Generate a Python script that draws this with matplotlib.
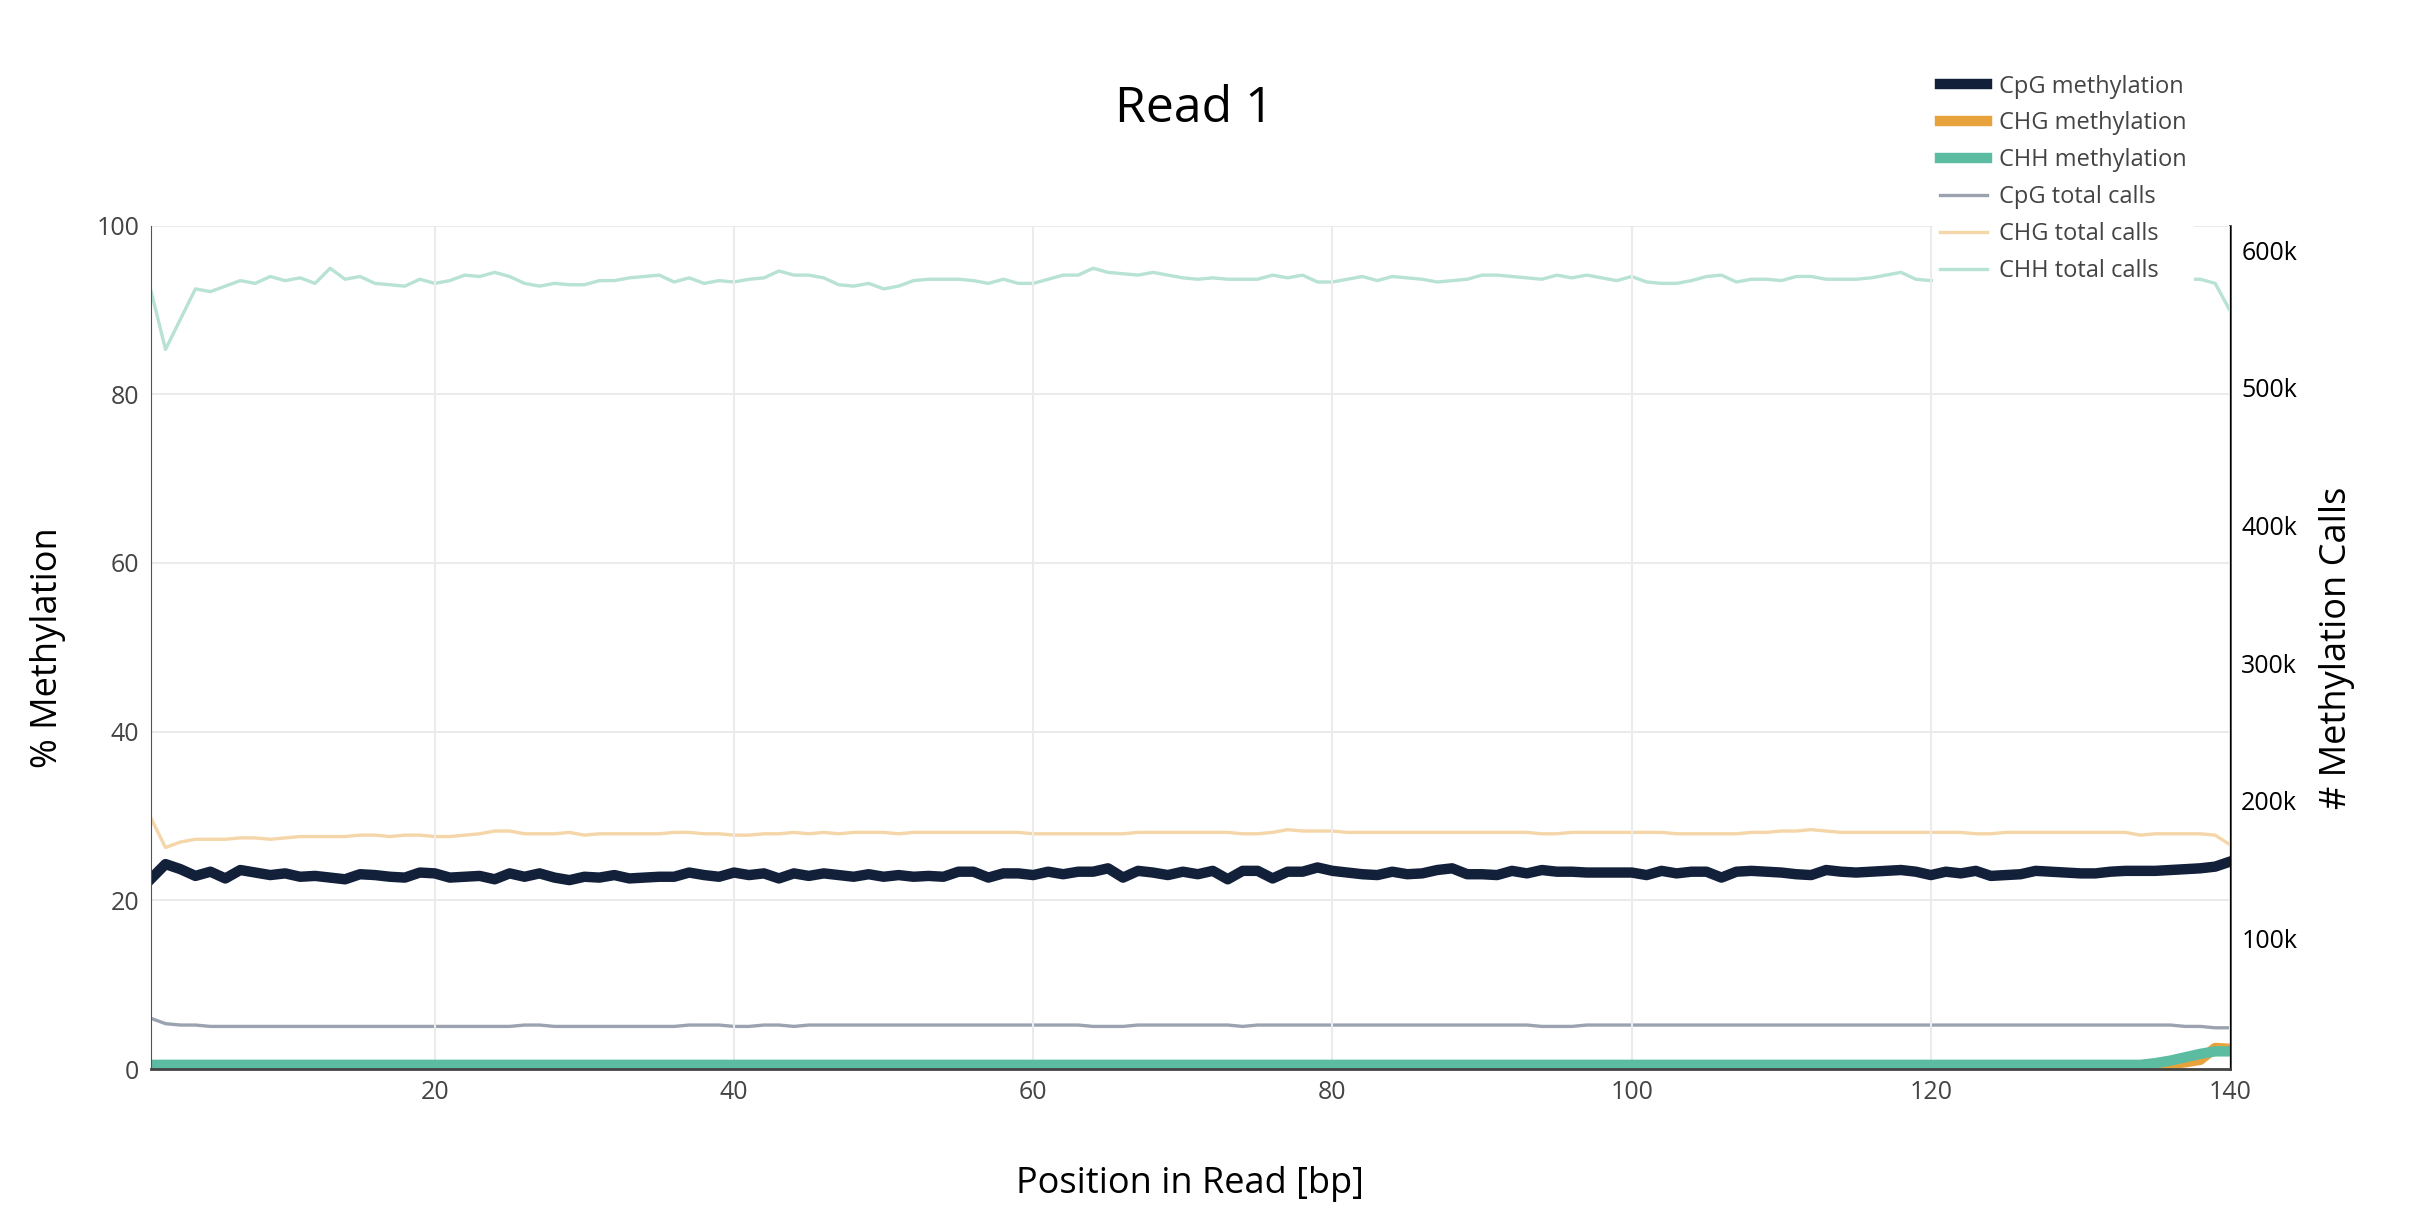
import matplotlib
matplotlib.use("Agg")
import matplotlib.pyplot as plt
import numpy as np

plt.rcParams['font.family'] = ['Open Sans', 'DejaVu Sans']

# DATA
position = list(range(1, 141))

cpg_meth = [
    22.5, 24.3, 23.7, 22.9, 23.4, 22.6, 23.6, 23.3, 23.0, 23.2,
    22.8, 22.9, 22.7, 22.5, 23.1, 23.0, 22.8, 22.7, 23.3, 23.2,
    22.7, 22.8, 22.9, 22.5, 23.2, 22.8, 23.2, 22.7, 22.4, 22.8,
    22.7, 23.0, 22.6, 22.7, 22.8, 22.8, 23.3, 23.0, 22.8, 23.3,
    23.0, 23.2, 22.6, 23.2, 22.9, 23.2, 23.0, 22.8, 23.1, 22.8,
    23.0, 22.8, 22.9, 22.8, 23.4, 23.4, 22.7, 23.2, 23.2, 23.0,
    23.4, 23.1, 23.4, 23.4, 23.8, 22.7, 23.5, 23.3, 23.0, 23.4,
    23.1, 23.5, 22.5, 23.5, 23.5, 22.6, 23.4, 23.4, 23.9, 23.5,
    23.3, 23.1, 23.0, 23.4, 23.1, 23.2, 23.6, 23.8, 23.1, 23.1,
    23.0, 23.5, 23.2, 23.6, 23.4, 23.4, 23.3, 23.3, 23.3, 23.3,
    23.0, 23.5, 23.2, 23.4, 23.4, 22.7, 23.4, 23.5, 23.4, 23.3,
    23.1, 23.0, 23.6, 23.4, 23.3, 23.4, 23.5, 23.6, 23.4, 23.0,
    23.4, 23.2, 23.5, 22.9, 23.0, 23.1, 23.5, 23.4, 23.3, 23.2,
    23.2, 23.4, 23.5, 23.5, 23.5, 23.6, 23.7, 23.8, 24.0, 24.6,
]

chg_meth = [
    0.4, 0.4, 0.4, 0.4, 0.4, 0.4, 0.4, 0.4, 0.4, 0.4,
    0.4, 0.4, 0.4, 0.4, 0.4, 0.4, 0.4, 0.4, 0.4, 0.4,
    0.4, 0.4, 0.4, 0.4, 0.4, 0.4, 0.4, 0.4, 0.4, 0.4,
    0.4, 0.4, 0.4, 0.4, 0.4, 0.4, 0.4, 0.4, 0.4, 0.4,
    0.4, 0.4, 0.4, 0.4, 0.4, 0.4, 0.4, 0.4, 0.4, 0.4,
    0.4, 0.4, 0.4, 0.4, 0.4, 0.4, 0.4, 0.4, 0.4, 0.4,
    0.4, 0.4, 0.4, 0.4, 0.4, 0.4, 0.4, 0.4, 0.4, 0.4,
    0.4, 0.4, 0.4, 0.4, 0.4, 0.4, 0.4, 0.4, 0.4, 0.4,
    0.4, 0.4, 0.4, 0.4, 0.4, 0.4, 0.4, 0.4, 0.4, 0.4,
    0.4, 0.4, 0.4, 0.4, 0.4, 0.4, 0.4, 0.4, 0.4, 0.4,
    0.4, 0.4, 0.4, 0.4, 0.4, 0.4, 0.4, 0.4, 0.4, 0.4,
    0.4, 0.4, 0.4, 0.4, 0.4, 0.4, 0.4, 0.4, 0.4, 0.4,
    0.4, 0.4, 0.4, 0.4, 0.4, 0.4, 0.4, 0.4, 0.4, 0.4,
    0.4, 0.4, 0.4, 0.4, 0.5, 0.6, 0.8, 1.1, 2.5, 2.4,
]

chh_meth = [
    0.5, 0.5, 0.5, 0.5, 0.5, 0.5, 0.5, 0.5, 0.5, 0.5,
    0.5, 0.5, 0.5, 0.5, 0.5, 0.5, 0.5, 0.5, 0.5, 0.5,
    0.5, 0.5, 0.5, 0.5, 0.5, 0.5, 0.5, 0.5, 0.5, 0.5,
    0.5, 0.5, 0.5, 0.5, 0.5, 0.5, 0.5, 0.5, 0.5, 0.5,
    0.5, 0.5, 0.5, 0.5, 0.5, 0.5, 0.5, 0.5, 0.5, 0.5,
    0.5, 0.5, 0.5, 0.5, 0.5, 0.5, 0.5, 0.5, 0.5, 0.5,
    0.5, 0.5, 0.5, 0.5, 0.5, 0.5, 0.5, 0.5, 0.5, 0.5,
    0.5, 0.5, 0.5, 0.5, 0.5, 0.5, 0.5, 0.5, 0.5, 0.5,
    0.5, 0.5, 0.5, 0.5, 0.5, 0.5, 0.5, 0.5, 0.5, 0.5,
    0.5, 0.5, 0.5, 0.5, 0.5, 0.5, 0.5, 0.5, 0.5, 0.5,
    0.5, 0.5, 0.5, 0.5, 0.5, 0.5, 0.5, 0.5, 0.5, 0.5,
    0.5, 0.5, 0.5, 0.5, 0.5, 0.5, 0.5, 0.5, 0.5, 0.5,
    0.5, 0.5, 0.5, 0.5, 0.5, 0.5, 0.5, 0.5, 0.5, 0.5,
    0.5, 0.5, 0.5, 0.5, 0.7, 1.0, 1.4, 1.8, 2.1, 2.1,
]

# total calls, in thousands
cpg_calls_k = [
    42, 38, 37, 37, 36, 36, 36, 36, 36, 36,
    36, 36, 36, 36, 36, 36, 36, 36, 36, 36,
    36, 36, 36, 36, 36, 37, 37, 36, 36, 36,
    36, 36, 36, 36, 36, 36, 37, 37, 37, 36,
    36, 37, 37, 36, 37, 37, 37, 37, 37, 37,
    37, 37, 37, 37, 37, 37, 37, 37, 37, 37,
    37, 37, 37, 36, 36, 36, 37, 37, 37, 37,
    37, 37, 37, 36, 37, 37, 37, 37, 37, 37,
    37, 37, 37, 37, 37, 37, 37, 37, 37, 37,
    37, 37, 37, 36, 36, 36, 37, 37, 37, 37,
    37, 37, 37, 37, 37, 37, 37, 37, 37, 37,
    37, 37, 37, 37, 37, 37, 37, 37, 37, 37,
    37, 37, 37, 37, 37, 37, 37, 37, 37, 37,
    37, 37, 37, 37, 37, 37, 36, 36, 35, 35,
]

chg_calls_k = [
    188, 166, 170, 172, 172, 172, 173, 173, 172, 173,
    174, 174, 174, 174, 175, 175, 174, 175, 175, 174,
    174, 175, 176, 178, 178, 176, 176, 176, 177, 175,
    176, 176, 176, 176, 176, 177, 177, 176, 176, 175,
    175, 176, 176, 177, 176, 177, 176, 177, 177, 177,
    176, 177, 177, 177, 177, 177, 177, 177, 177, 176,
    176, 176, 176, 176, 176, 176, 177, 177, 177, 177,
    177, 177, 177, 176, 176, 177, 179, 178, 178, 178,
    177, 177, 177, 177, 177, 177, 177, 177, 177, 177,
    177, 177, 177, 176, 176, 177, 177, 177, 177, 177,
    177, 177, 176, 176, 176, 176, 176, 177, 177, 178,
    178, 179, 178, 177, 177, 177, 177, 177, 177, 177,
    177, 177, 176, 176, 177, 177, 177, 177, 177, 177,
    177, 177, 177, 175, 176, 176, 176, 176, 175, 168,
]

chh_calls_k = [
    572, 528, 550, 572, 570, 574, 578, 576, 581, 578,
    580, 576, 587, 579, 581, 576, 575, 574, 579, 576,
    578, 582, 581, 584, 581, 576, 574, 576, 575, 575,
    578, 578, 580, 581, 582, 577, 580, 576, 578, 577,
    579, 580, 585, 582, 582, 580, 575, 574, 576, 572,
    574, 578, 579, 579, 579, 578, 576, 579, 576, 576,
    579, 582, 582, 587, 584, 583, 582, 584, 582, 580,
    579, 580, 579, 579, 579, 582, 580, 582, 577, 577,
    579, 581, 578, 581, 580, 579, 577, 578, 579, 582,
    582, 581, 580, 579, 582, 580, 582, 580, 578, 581,
    577, 576, 576, 578, 581, 582, 577, 579, 579, 578,
    581, 581, 579, 579, 579, 580, 582, 584, 579, 578,
    579, 579, 579, 579, 579, 579, 579, 579, 579, 579,
    579, 579, 579, 579, 579, 579, 579, 579, 576, 556,
]

# COLOURS
C_CPG = '#13203a'
C_CHG = '#e8a23c'
C_CHH = '#5bbca2'
C_CPG_T = '#9ba3b1'
C_CHG_T = '#f5d6a8'
C_CHH_T = '#b7e2d4'

fig = plt.figure(figsize=(24.28, 12.26), dpi=100)
ax1 = fig.add_axes([0.062, 0.128, 0.8565, 0.688])
ax2 = ax1.twinx()

x = np.array(position)
k = 1000
l4, = ax2.plot(x, np.array(cpg_calls_k) * k, color=C_CPG_T, lw=2.4, label='CpG total calls')
l5, = ax2.plot(x, np.array(chg_calls_k) * k, color=C_CHG_T, lw=2.4, label='CHG total calls')
l6, = ax2.plot(x, np.array(chh_calls_k) * k, color=C_CHH_T, lw=2.4, label='CHH total calls')

l1, = ax1.plot(x, cpg_meth, color=C_CPG, lw=7.5, label='CpG methylation')
l2, = ax1.plot(x, chg_meth, color=C_CHG, lw=7.5, label='CHG methylation')
l3, = ax1.plot(x, chh_meth, color=C_CHH, lw=7.5, label='CHH methylation')

ax1.set_zorder(ax2.get_zorder() + 1)
ax1.patch.set_visible(False)

ax1.set_xlim(1, 140)
ax1.set_ylim(0, 100)
ax2.set_ylim(5000, 618000)
ax1.set_xticks([20, 40, 60, 80, 100, 120, 140])
ax1.set_yticks([0, 20, 40, 60, 80, 100])
ax2.set_yticks([100000, 200000, 300000, 400000, 500000, 600000])
ax2.set_yticklabels(['100k', '200k', '300k', '400k', '500k', '600k'])

ax1.grid(True, color='#ebebeb', lw=1.5)
for ax in (ax1, ax2):
    ax.spines['top'].set_visible(False)
    ax.tick_params(length=0, labelsize=18)
ax1.spines['left'].set_color('#555555')
ax1.spines['bottom'].set_color('#444444')
ax1.spines['bottom'].set_linewidth(2)
ax2.spines['left'].set_visible(False)
ax2.spines['bottom'].set_visible(False)
ax2.spines['right'].set_color('#444444')
ax2.spines['right'].set_linewidth(2)
ax1.tick_params(colors='#444444', pad=8)
ax2.tick_params(colors='black', pad=8)

ax1.set_ylabel('% Methylation', fontsize=26, labelpad=22)
ax2.set_ylabel('# Methylation Calls', fontsize=26, labelpad=16)
ax1.set_xlabel('Position in Read [bp]', fontsize=26, labelpad=44)
fig.text(0.492, 0.911, 'Read 1', fontsize=36, ha='center', va='center')

leg = fig.legend(handles=[l1, l2, l3, l4, l5, l6], loc='upper left',
                 bbox_to_anchor=(0.796, 0.945), frameon=True, fontsize=17,
                 handlelength=2.0, handletextpad=0.5, labelspacing=0.55,
                 borderaxespad=0, borderpad=0.3)
leg.get_frame().set_edgecolor('none')
leg.get_frame().set_facecolor('white')
leg.get_frame().set_alpha(1)
leg.set_zorder(10)
for t in leg.get_texts():
    t.set_color('#444444')

fig.savefig('out.png', dpi=100, facecolor='white')
